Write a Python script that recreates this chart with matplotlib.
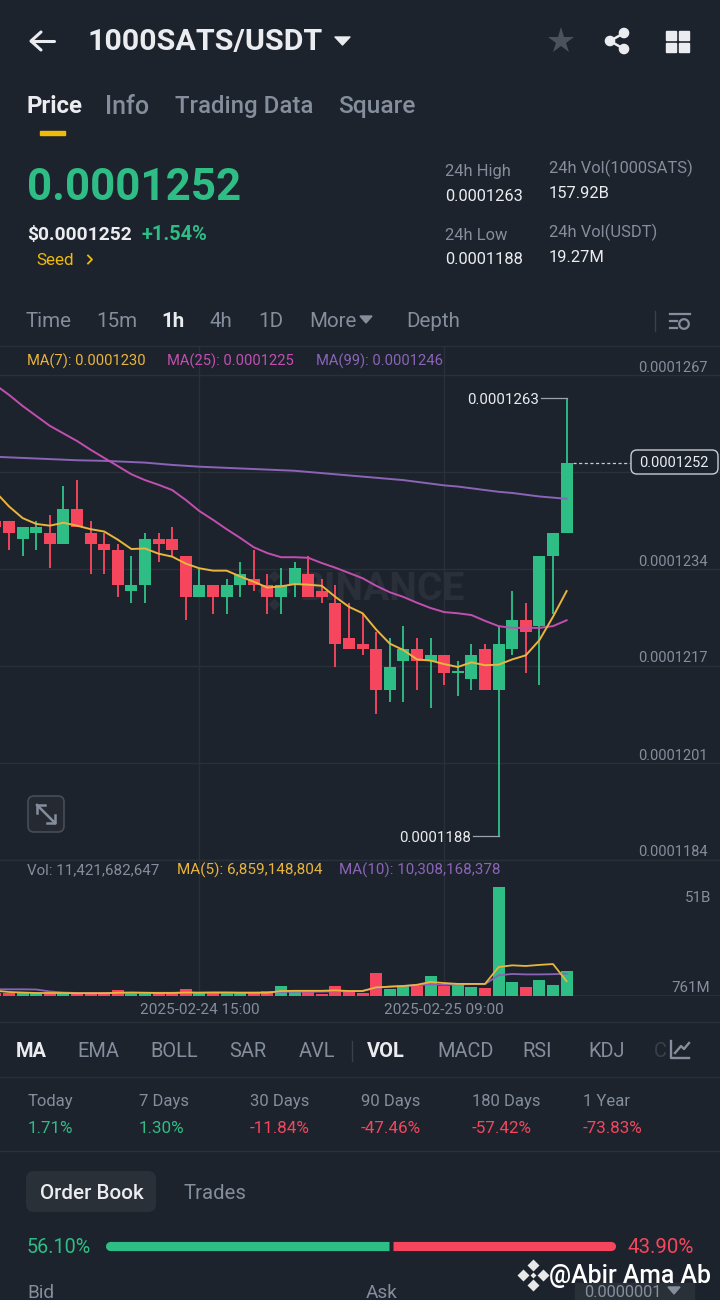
"""Binance 1000SATS/USDT phone screenshot: 1h candles, MAs, volume and the app chrome."""

import matplotlib
matplotlib.use("Agg")
import matplotlib.pyplot as plt
import numpy as np
from matplotlib.patches import Circle, FancyBboxPatch, Polygon, Rectangle

plt.rcParams["font.family"] = ["Roboto", "DejaVu Sans"]

# ── Data ──────────────────────────────────────────────────────────────────────

# prices in units of 1e-7 (1252 means 0.0001252)
opens = [1242, 1242, 1239, 1240, 1240, 1238, 1244, 1240, 1238, 1237, 1230, 1231, 1239, 1239,
         1236, 1229, 1231, 1229, 1231, 1232, 1231, 1229, 1231, 1233, 1230, 1228, 1222, 1221,
         1220, 1213, 1218, 1220, 1218, 1219, 1216, 1215, 1220, 1213, 1220, 1225, 1224, 1236, 1240]
closes = [1241, 1240, 1241, 1241, 1238, 1244, 1241, 1238, 1237, 1231, 1231, 1239, 1238, 1237,
          1229, 1231, 1229, 1231, 1233, 1231, 1229, 1231, 1234, 1229, 1229, 1221, 1220, 1220,
          1213, 1217, 1220, 1218, 1219, 1216, 1216, 1219, 1213, 1221, 1225, 1223, 1236, 1240, 1252]
highs = [1246, 1242, 1241, 1242, 1243, 1248, 1249, 1242, 1240, 1238, 1236, 1240, 1240, 1241,
         1236, 1234, 1231, 1232, 1235, 1237, 1233, 1234, 1235, 1236, 1232, 1231, 1228, 1226,
         1223, 1222, 1224, 1222, 1222, 1219, 1218, 1221, 1221, 1224, 1230, 1228, 1236, 1240, 1263]
lows = [1241, 1237, 1236, 1237, 1234, 1238, 1241, 1233, 1233, 1229, 1228, 1228, 1235, 1236,
        1225, 1229, 1226, 1226, 1229, 1230, 1226, 1226, 1229, 1229, 1228, 1217, 1220, 1219,
        1209, 1211, 1211, 1213, 1210, 1214, 1212, 1213, 1213, 1188, 1219, 1216, 1214, 1226, 1240]

ma7 = [1247, 1244.5, 1242.5, 1241.5, 1241.2, 1241.7, 1241.2, 1240.6, 1240.2, 1238.8, 1237.2,
       1237.3, 1236.4, 1235.9, 1234.7, 1233.9, 1233.5, 1233.5, 1232.5, 1231.6, 1230.6, 1230.8,
       1231.2, 1231.1, 1230.9, 1229, 1227.3, 1226.2, 1223.4, 1221, 1219.9, 1218.3, 1218.1,
       1217.5, 1217, 1217.8, 1217.3, 1217.4, 1218.3, 1219, 1221.6, 1225.6, 1230]
ma25 = [1265.3, 1263.6, 1261.7, 1260, 1258.3, 1257, 1255.7, 1254.2, 1252.8, 1251.4, 1250,
        1249, 1248.2, 1247.3, 1245.6, 1243.7, 1242.2, 1240.6, 1239.1, 1237.5, 1236.5, 1235.8,
        1235.8, 1235.7, 1234.8, 1234, 1233.1, 1232.2, 1230.9, 1229.8, 1229, 1228, 1227.1,
        1226.4, 1226.2, 1225.9, 1224.9, 1224, 1223.7, 1223.7, 1223.7, 1224, 1225]
ma99 = [1253, 1252.9, 1252.8, 1252.7, 1252.6, 1252.5, 1252.4, 1252.35, 1252.3, 1252.2, 1252.1,
        1252, 1251.8, 1251.6, 1251.45, 1251.3, 1251.2, 1251.1, 1251, 1250.9, 1250.8, 1250.7,
        1250.6, 1250.4, 1250.2, 1250, 1249.8, 1249.6, 1249.4, 1249.2, 1249, 1248.7, 1248.4,
        1248.1, 1247.9, 1247.6, 1247.3, 1247, 1246.8, 1246.5, 1246.2, 1246, 1245.8]

# volume in billions
volumes = [1.39, 1.25, 1.25, 1.25, 1.25, 1.25, 1.25, 1.25, 1.53, 2.64, 1.39, 1.25, 1.25, 1.16,
           3.24, 1.39, 1.53, 1.53, 1.25, 1.53, 2.31, 4.77, 1.71, 2.31, 1.06, 4.49, 1.71, 1.53,
           10.5, 3.24, 5.09, 4.63, 9.26, 4.63, 5.09, 4.31, 3.7, 50.6, 6.48, 4.03, 7.41, 5.09, 11.42]
vol_ma5 = [2.45, 1.85, 1.6, 1.4, 1.4, 1.4, 1.3, 1.3, 1.3, 1.5, 1.6, 1.5, 1.4, 1.4, 1.6, 1.5,
           1.6, 1.6, 1.5, 1.5, 1.5, 2.3, 2.4, 2.4, 2.4, 2.6, 2.3, 2.3, 4.0, 4.3, 4.6, 5.2, 6.5,
           6.0, 5.6, 5.6, 5.6, 13.4, 14.2, 13.9, 14.4, 14.8, 6.86]
vol_ma10 = [3.1, 3.1, 3.1, 3.0, 2.1, 1.6, 1.4, 1.4, 1.4, 1.5, 1.5, 1.5, 1.5, 1.5, 1.6, 1.6,
            1.6, 1.6, 1.6, 1.6, 1.7, 1.9, 2.0, 2.0, 2.0, 2.2, 2.2, 2.4, 3.8, 4.4, 4.7, 5.0, 5.4,
            5.2, 5.4, 5.5, 5.5, 9.6, 10.2, 10.0, 10.0, 10.1, 10.3]

price_ticks = [1267, 1250.4, 1233.8, 1217.2, 1200.6, 1184]
price_labels = ["0.0001267", "0.0001234", "0.0001217", "0.0001201", "0.0001184"]
date_indices = [15, 33]
date_labels = ["2025-02-24 15:00", "2025-02-25 09:00"]

period_names = ["Today", "7 Days", "30 Days", "90 Days", "180 Days", "1 Year"]
period_values = [1.71, 1.30, -11.84, -47.46, -57.42, -73.83]

bid_share = 56.10
ask_share = 43.90

# ── Style ─────────────────────────────────────────────────────────────────────

BG = "#1d232c"
GRID = "#2a3038"
GREEN = "#2ebd85"
RED = "#f6465d"
YELLOW = "#e9b53c"
PINK = "#c24fb0"
PURPLE = "#8b64b8"
GREY = "#848e9c"
WHITE = "#eaecef"
FAINT = "#2a2f39"

W, H = 720, 1300
CANDLE_X0, CANDLE_STEP = -4.6, 13.6


def px_to_index(x):
    return (x - CANDLE_X0) / CANDLE_STEP


def px_axes(fig, top, bottom, zorder):
    """Full-width axes covering the pixel rows top..bottom."""
    ax = fig.add_axes([0, 1 - bottom / H, 1, (bottom - top) / H], zorder=zorder)
    ax.patch.set_alpha(0)
    ax.set_xlim(px_to_index(0), px_to_index(W))
    ax.set_xticks([])
    ax.set_yticks([])
    for spine in ax.spines.values():
        spine.set_visible(False)
    return ax


fig = plt.figure(figsize=(W / 100, H / 100), dpi=100, facecolor=BG)

# back layer for the faint logo
back = fig.add_axes([0, 0, 1, 1], zorder=0)
back.set_xlim(0, W)
back.set_ylim(H, 0)
back.axis("off")

ui = fig.add_axes([0, 0, 1, 1], zorder=5)
ui.patch.set_alpha(0)
ui.set_xlim(0, W)
ui.set_ylim(H, 0)
ui.axis("off")


def label(x, y, s, size, color=GREY, weight="normal", ha="left", layer=None, **kw):
    # Roboto sits a little high when centred, hence the nudge
    (layer or ui).text(x, y + 1.5, s, fontsize=size * 0.72, color=color, fontweight=weight,
                       ha=ha, va="center", **kw)


# ── Price panel ───────────────────────────────────────────────────────────────

PX_PER_TICK = 5.84
ax = px_axes(fig, 346, 860, 1)
ax.set_ylim(1267 - (860 - 375) / PX_PER_TICK, 1267 + (375 - 346) / PX_PER_TICK)

for p in price_ticks:
    ax.axhline(p, color=GRID, lw=1, zorder=0)
for i in date_indices:
    ax.axvline(i, color=GRID, lw=1, zorder=0)

idx = np.arange(len(opens))
o, c = np.array(opens), np.array(closes)
up = c >= o
colors = np.where(up, GREEN, RED)

ax.vlines(idx, lows, highs, colors=colors, lw=1.35, zorder=2)
ax.bar(idx, np.maximum(np.abs(c - o), 0.25), bottom=np.minimum(o, c), width=0.87,
       color=colors, zorder=2)
ax.plot(idx, ma99, color=PURPLE, lw=1.4, zorder=3)
ax.plot(idx, ma25, color=PINK, lw=1.4, zorder=3)
ax.plot(idx, ma7, color=YELLOW, lw=1.4, zorder=3)

# high / low callouts
hi_i, lo_i = int(np.argmax(highs)), int(np.argmin(lows))
ax.plot([px_to_index(541), hi_i], [max(highs), max(highs)], color="#9aa3ad", lw=0.9, zorder=2)
ax.plot([px_to_index(473), lo_i], [min(lows), min(lows)], color="#9aa3ad", lw=0.9, zorder=2)
ax.text(px_to_index(539), max(highs), "0.0001263", color=WHITE, fontsize=10.8, ha="right", va="center_baseline")
ax.text(px_to_index(471), min(lows), "0.0001188", color=WHITE, fontsize=10.8, ha="right", va="center_baseline")

# last price marker
ax.plot([hi_i + 0.45, px_to_index(630)], [closes[-1], closes[-1]], color="#c8ccd2", lw=0.9, ls=(0, (2.5, 2)))

# ── Volume panel ──────────────────────────────────────────────────────────────

vx = px_axes(fig, 860, 996, 1)
vx.set_ylim(0, 136 / 2.16)
for i in date_indices:
    vx.axvline(i, color=GRID, lw=1, zorder=0)
vx.axhline(0, color=GRID, lw=2, zorder=0)
vx.bar(idx, volumes, width=0.87, color=colors, zorder=2)
vx.plot(idx, vol_ma10, color=PURPLE, lw=1.3, zorder=3)
vx.plot(idx, vol_ma5, color=YELLOW, lw=1.3, zorder=3)

for i, s in zip(date_indices, date_labels):
    label(CANDLE_X0 + i * CANDLE_STEP, 1009, s, 15.3, ha="center")

# ── Watermark behind the candles ──────────────────────────────────────────────

label(382, 588, "BINANCE", 39, color=FAINT, weight="bold", ha="center", layer=back)
for dx, dy in [(0, -14), (-11, 0), (11, 0), (0, 14), (0, 0)]:
    back.plot([274 + dx], [590 + dy], marker="D", ms=6, color=FAINT, mec="none")

# ── Header ────────────────────────────────────────────────────────────────────

ui.plot([31, 54], [41, 41], color=WHITE, lw=2.2, solid_capstyle="round")
ui.plot([41, 31, 41], [32, 41, 50], color=WHITE, lw=2.2, solid_capstyle="round")
label(88, 41, "1000SATS/USDT", 30.4, WHITE, "bold")
ui.add_patch(Polygon([[335, 37], [350, 37], [342.5, 45]], color=WHITE, joinstyle="round"))
ui.plot([561], [41], marker="*", ms=20, color="#4b525c", mew=0)
for cx, cy in [(610, 41), (624, 33), (624, 49)]:
    ui.add_patch(Circle((cx, cy), 4.6, color=WHITE))
ui.plot([624, 610, 624], [33, 41, 49], color=WHITE, lw=1.8)
for gx, gy in [(666, 31), (679, 31), (666, 43), (679, 43)]:
    ui.add_patch(Rectangle((gx, gy), 10, 9, color=WHITE))

for x, s, col, wt, size in [(27, "Price", WHITE, "bold", 24), (105, "Info", GREY, "medium", 25),
                            (175, "Trading Data", GREY, "medium", 24), (338, "Square", GREY, "medium", 24.5)]:
    label(x, 105, s, size, col, wt)
ui.add_patch(Rectangle((40, 130.5), 25, 4.5, color="#f0b90b"))

label(27, 187, "0.0001252", 44, GREEN, "bold")
label(27, 233, "$0.0001252", 19.3, WHITE, "bold")
label(141, 233, "+1.54%", 20, GREEN, "bold")
label(36, 259, "Seed", 17, "#f0b90b")
ui.plot([88, 92, 88], [255.5, 259.5, 263.5], color="#f0b90b", lw=1.3)

for x, y, s, col in [(445, 170, "24h High", GREY), (445, 195, "0.0001263", WHITE),
                     (445, 234, "24h Low", GREY), (445, 258, "0.0001188", WHITE),
                     (549, 167, "24h Vol(1000SATS)", GREY), (549, 192, "157.92B", WHITE),
                     (549, 231, "24h Vol(USDT)", GREY), (549, 256, "19.27M", WHITE)]:
    label(x, y, s, 16.5, col)

# ── Timeframe row ─────────────────────────────────────────────────────────────

for x, s, col, wt in [(26, "Time", GREY, "normal"), (96, "15m", GREY, "normal"), (161, "1h", WHITE, "bold"),
                      (210, "4h", GREY, "normal"), (258, "1D", GREY, "normal"), (309, "More", GREY, "normal"),
                      (406, "Depth", GREY, "normal")]:
    label(x, 320, s, 20.5, col, wt)
ui.add_patch(Polygon([[360, 316], [372, 316], [366, 323]], color=GREY))
ui.plot([654.5, 654.5], [311, 331], color="#3a404a", lw=1)
ui.plot([670, 690], [314, 314], color=GREY, lw=1.6)
ui.plot([670, 677], [321, 321], color=GREY, lw=1.6)
ui.plot([670, 677], [328, 328], color=GREY, lw=1.6)
ui.add_patch(Circle((684, 324), 4.8, fill=False, ec=GREY, lw=1.6))
ui.plot([0, W], [346, 346], color=GRID, lw=1)

label(27, 359.5, "MA(7): 0.0001230", 14.8, YELLOW)
label(167, 359.5, "MA(25): 0.0001225", 14.8, PINK)
label(316, 359.5, "MA(99): 0.0001246", 14.8, PURPLE)

# price scale labels sit just above their gridlines
label(708, 366, price_labels[0], 14.6, ha="right")
for s, y in zip(price_labels[1:], [560, 657, 754, 851]):
    label(708, y, s, 14.6, ha="right")
ui.add_patch(FancyBboxPatch((631, 450), 87, 24, boxstyle="round,pad=0,rounding_size=6",
                            fc=BG, ec="#c8ccd2", lw=1))
label(709, 461.5, "0.0001252", 14.6, WHITE, ha="right")

# expand icon
ui.add_patch(FancyBboxPatch((28, 796), 36, 36, boxstyle="round,pad=0,rounding_size=6",
                            fc="#242932", ec="#474d57", lw=1.2))
ui.plot([37, 55], [805, 823], color=GREY, lw=1.8)
ui.plot([37, 37, 45], [813, 805, 805], color=GREY, lw=1.8)
ui.plot([47, 55, 55], [823, 823, 815], color=GREY, lw=1.8)

# ── Volume captions ───────────────────────────────────────────────────────────

ui.plot([0, W], [860, 860], color=GRID, lw=1)
label(27, 869, "Vol: 11,421,682,647", 15.1)
label(177, 869, "MA(5): 6,859,148,804", 15.2, YELLOW)
label(339, 869, "MA(10): 10,308,168,378", 15.1, PURPLE)
label(711, 897, "51B", 15, ha="right")
label(710, 986.5, "761M", 15, ha="right")
ui.plot([0, W], [1022, 1022], color=GRID, lw=1)

# ── Indicator row ─────────────────────────────────────────────────────────────

for x, s, col, wt in [(16, "MA", WHITE, "bold"), (77, "EMA", GREY, "normal"), (150, "BOLL", GREY, "normal"),
                      (229, "SAR", GREY, "normal"), (299, "AVL", GREY, "normal"), (367, "VOL", WHITE, "bold"),
                      (437, "MACD", GREY, "normal"), (522, "RSI", GREY, "normal"), (588, "KDJ", GREY, "normal"),
                      (654, "C", "#3a404a", "normal")]:
    label(x, 1050, s, 20, col, wt)
ui.plot([351.5, 351.5], [1041, 1061], color="#3a404a", lw=1)
ui.plot([671, 671, 689], [1041, 1058, 1058], color=GREY, lw=1.7)
ui.plot([675, 681, 684, 689], [1053, 1046, 1049, 1043], color=GREY, lw=1.7)
ui.plot([0, W], [1077, 1077], color=GRID, lw=1)

for x, name, val in zip([28, 139, 250, 361, 472, 583], period_names, period_values):
    label(x, 1100, name, 16.6)
    label(x, 1127, f"{val:.2f}%", 17, GREEN if val > 0 else RED)
ui.plot([0, W], [1151, 1151], color=GRID, lw=1)

# ── Order book ────────────────────────────────────────────────────────────────

ui.add_patch(FancyBboxPatch((26, 1171), 130, 41, boxstyle="round,pad=0,rounding_size=8", fc="#2a3038", ec="none"))
label(40, 1192, "Order Book", 20.6, WHITE, "medium")
label(183, 1192, "Trades", 20.3)

BAR_L, BAR_R = 106, 615
split = BAR_L + (BAR_R - BAR_L) * bid_share / (bid_share + ask_share)
label(27, 1246, f"{bid_share:.2f}%", 19.8, GREEN)
ui.plot([BAR_L + 4, split - 12], [1246, 1246], color=GREEN, lw=6.6, solid_capstyle="round")
ui.plot([split - 12, split - 2.5], [1246, 1246], color=GREEN, lw=6.6, solid_capstyle="butt")
ui.plot([split + 1.5, split + 12], [1246, 1246], color=RED, lw=6.6, solid_capstyle="butt")
ui.plot([split + 12, BAR_R - 4], [1246, 1246], color=RED, lw=6.6, solid_capstyle="round")
label(628, 1246, f"{ask_share:.2f}%", 20.5, RED)

label(27, 1291, "Bid", 19)
label(366, 1291, "Ask", 19)
ui.add_patch(Rectangle((575, 1283), 119, 17, color="#2a3038"))
label(584, 1291, "0.0000001", 16.5)
ui.add_patch(Polygon([[668, 1287], [680, 1287], [674, 1294]], color=GREY))

# user watermark
for dx, dy in [(0, -10), (-10, 0), (10, 0), (0, 10)]:
    ui.plot([533 + dx], [1275 + dy], marker="D", ms=6, color="#e8e8e8", mec="none")
ui.plot([533], [1275], marker="D", ms=3, color="#e8e8e8", mec="none")
label(549, 1274, "@Abir Ama Ab", 24.8, "#ffffff", "medium")

fig.savefig("out.png", dpi=100, facecolor=BG)
